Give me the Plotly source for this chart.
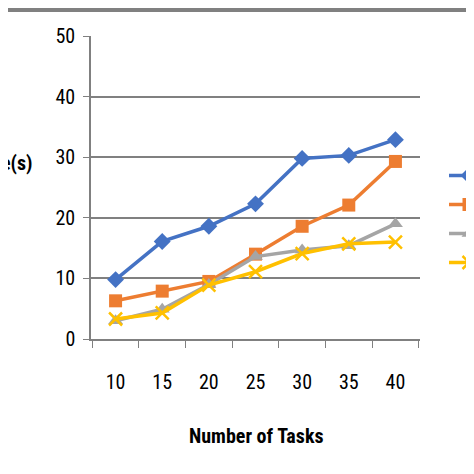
import plotly.graph_objects as go

tasks = ["10", "15", "20", "25", "30", "35", "40"]
s1 = [9.8, 16.1, 18.6, 22.3, 29.8, 30.3, 32.9]
s2 = [6.3, 7.9, 9.5, 14.0, 18.6, 22.1, 29.3]
s3 = [3.0, 4.9, 9.0, 13.6, 14.7, 15.4, 19.0]
s4 = [3.3, 4.3, 8.9, 11.1, 14.1, 15.7, 16.0]
names = ["Series 1", "Series 2", "Series 3", "Series 4"]
colors = ["#4472C4", "#ED7D31", "#A5A5A5", "#FFC000"]
symbols = ["diamond", "square", "triangle-up", "x-thin-open"]

W = H = 474
L, R, T, B = 83, 62, 28, 143
PW, PH = W - L - R, H - T - B
FONT = "Liberation Sans Narrow, Roboto Condensed, Roboto, sans-serif"

fig = go.Figure()
for name, ys, c, s in zip(names, [s1, s2, s3, s4], colors, symbols):
    mk = dict(symbol=s, size=13, color=c, line=dict(color=c, width=2.5 if s.startswith("x") else 0))
    fig.add_trace(go.Scatter(x=tasks, y=ys, name=name, mode="lines+markers",
                             line=dict(color=c, width=3.5), marker=mk))

fig.update_layout(
    width=W, height=H, margin=dict(l=L, r=R, t=T, b=B, autoexpand=False),
    paper_bgcolor="white", plot_bgcolor="white",
    font=dict(family=FONT, size=20, color="black"),
    showlegend=True,
    legend=dict(x=(436 - L) / PW, y=(331 - 148) / PH, xanchor="left", yanchor="top",
                font=dict(size=20), tracegroupgap=22, itemwidth=40, bgcolor="rgba(0,0,0,0)"),
    xaxis=dict(type="category", showline=True, linecolor="#808080", linewidth=1.5,
               ticks="outside", tickson="boundaries", ticklen=7, tickcolor="#808080",
               showgrid=False, tickfont=dict(size=20), ticklabelstandoff=24),
    yaxis=dict(range=[0, 50], dtick=10, showline=True, linecolor="#808080", linewidth=1.5,
               ticks="outside", ticklen=6, tickcolor="#808080",
               showgrid=True, gridcolor="#808080", gridwidth=1.5, zeroline=False,
               tickfont=dict(size=20), ticklabelstandoff=4),
    shapes=[dict(type="line", xref="paper", yref="paper", x0=-1, x1=2,
                 y0=1 + (T - 2) / PH, y1=1 + (T - 2) / PH,
                 line=dict(color="#808080", width=4))],
    annotations=[
        dict(text="<b>Number of Tasks</b>", xref="paper", yref="paper", x=(248 - L) / PW,
             y=-(428 - 331) / PH, xanchor="center", yanchor="middle", showarrow=False,
             font=dict(size=20)),
        dict(text="<b>Execution Time(s)</b>", xref="paper", yref="paper", x=(27 - L) / PW,
             y=(331 - 155) / PH, xanchor="right", yanchor="middle", showarrow=False,
             font=dict(size=20)),
    ],
)
fig.write_html("out.html")
